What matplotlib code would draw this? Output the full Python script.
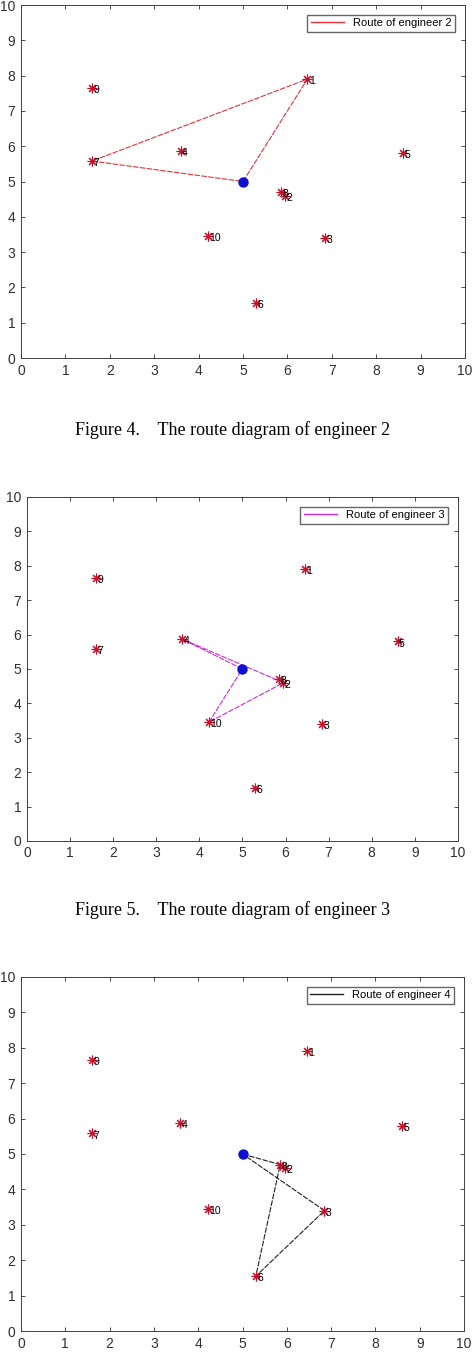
import matplotlib.pyplot as plt

# customer locations (node 1..10) and the depot
node_ids = [1, 2, 3, 4, 5, 6, 7, 8, 9, 10]
node_x = [6.45, 5.95, 6.85, 3.60, 8.60, 5.30, 1.60, 5.85, 1.60, 4.22]
node_y = [7.90, 4.60, 3.40, 5.87, 5.80, 1.55, 5.58, 4.70, 7.65, 3.45]
depot = (5.0, 5.0)

# routes as node sequences, starting and ending at the depot (0)
route_eng2 = [0, 1, 7, 0]
route_eng3 = [0, 4, 2, 10, 0]
route_eng4 = [0, 8, 6, 3, 0]

panels = [
    (route_eng2, "#e8303a", "Route of engineer 2", "Figure 4.    The route diagram of engineer 2"),
    (route_eng3, "#d42ad4", "Route of engineer 3", "Figure 5.    The route diagram of engineer 3"),
    (route_eng4, "#202020", "Route of engineer 4", None),
]

# axes boxes in figure fractions (left, bottom, width, height)
boxes = [
    (0.0443, 0.7352, 0.9367, 0.2611),
    (0.0570, 0.3780, 0.9090, 0.2544),
    (0.0443, 0.0155, 0.9347, 0.2619),
]
caption_y = [0.682, 0.327]

fig = plt.figure(figsize=(4.74, 13.52), dpi=100)


def coords(i):
    if i == 0:
        return depot
    k = node_ids.index(i)
    return node_x[k], node_y[k]


for n, (route, col, leg, cap) in enumerate(panels):
    ax = fig.add_axes(boxes[n])
    xs = [coords(i)[0] for i in route]
    ys = [coords(i)[1] for i in route]
    ax.plot(xs, ys, color=col, lw=0.8, ls=(0, (5, 1.2)), zorder=2)
    ax.plot([], [], color=col, lw=1.0, label=leg)
    ax.plot(node_x, node_y, ls="none", marker=(8, 2, 0), color="#c8102a",
            markersize=7, markeredgewidth=0.8, zorder=3)
    for i, x, y in zip(node_ids, node_x, node_y):
        ax.text(x + 0.03, y - 0.06, str(i), fontsize=7.5, family="Liberation Sans",
                color="black", ha="left", va="center", zorder=4)
    ax.plot(depot[0], depot[1], "o", color="#1010d0", markersize=6.5, zorder=5)

    ax.set_xlim(0, 10)
    ax.set_ylim(0, 10)
    ax.set_xticks(range(11))
    ax.set_yticks(range(11))
    ax.tick_params(direction="in", top=True, right=True, length=3, width=0.6,
                   labelsize=10, colors="#303030", pad=4)
    for lab in ax.get_xticklabels() + ax.get_yticklabels():
        lab.set_family("Liberation Sans")
    for s in ax.spines.values():
        s.set_linewidth(0.7)
        s.set_color("#404040")
    ax.legend(loc="upper right", prop={"family": "Liberation Sans", "size": 8},
              frameon=True, fancybox=False, edgecolor="#404040",
              borderpad=0.3, handlelength=3.0, borderaxespad=0.9)

    if cap:
        fig.text(0.49, caption_y[n], cap, ha="center", va="center",
                 family="Liberation Serif", fontsize=13)

fig.savefig("out.png", dpi=100)
